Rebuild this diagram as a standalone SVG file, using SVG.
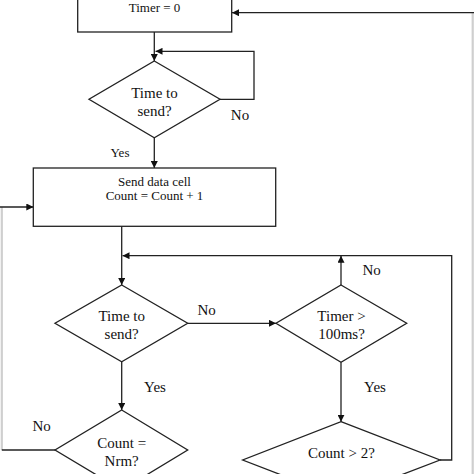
<svg xmlns="http://www.w3.org/2000/svg" width="474" height="474" viewBox="0 0 474 474">
<style>
.s{fill:none;stroke:#222;stroke-width:1.3}
.n{fill:#fff;stroke:#222;stroke-width:1.3}
.g{fill:none;stroke:#cfcfcf;stroke-width:2.2}
text{font-family:"Liberation Serif","Times New Roman",serif;fill:#111;text-anchor:middle}
.t15{font-size:15px}
.t13{font-size:13px}
</style>
<defs>
<marker id="a" viewBox="0 0 10 10" refX="10" refY="5" markerWidth="7" markerHeight="7" markerUnits="userSpaceOnUse" orient="auto">
<path d="M0,0 L10,5 L0,10 z" fill="#111"/>
</marker>
</defs>
<rect width="474" height="474" fill="#fff"/>
<g id="connectors">
<line class="g" x1="472.7" y1="12.7" x2="472.7" y2="474"/>
<line class="g" x1="1.8" y1="207" x2="1.8" y2="450"/>
<path class="s" d="M474,12.7 H232" marker-end="url(#a)"/>
<path class="s" d="M154.3,32 V61" marker-end="url(#a)"/>
<path class="s" d="M220,99.3 H254 V51.3 H155.5" marker-end="url(#a)"/>
<path class="s" d="M154.3,137.7 V168" marker-end="url(#a)"/>
<path class="s" d="M0,207 H33.3" marker-end="url(#a)"/>
<path class="s" d="M121.7,226.3 V285" marker-end="url(#a)"/>
<path class="s" d="M440,460 H451.7 V255.7 H122.5" marker-end="url(#a)"/>
<path class="s" d="M341,285 V255.7" marker-end="url(#a)"/>
<path class="s" d="M187.7,323.3 H276" marker-end="url(#a)"/>
<path class="s" d="M121.7,361.7 V410" marker-end="url(#a)"/>
<path class="s" d="M341,362.3 V421.7" marker-end="url(#a)"/>
<path class="s" d="M55,450 H1.8"/>
</g>
<g id="start">
<rect class="n" x="77.7" y="-30" width="154" height="62"/>
<text class="t13" x="154.5" y="12">Timer = 0</text>
</g>
<g id="d1">
<polygon class="n" points="154.3,61 220,99.3 154.3,137.7 89,99.3"/>
<text class="t15" x="154.5" y="98">Time to</text>
<text class="t15" x="154.5" y="116">send?</text>
</g>
<g id="send">
<rect class="n" x="33.3" y="168" width="242.4" height="58.3"/>
<text class="t13" x="154.5" y="185.5">Send data cell</text>
<text class="t13" x="154.5" y="200">Count = Count + 1</text>
</g>
<g id="d2">
<polygon class="n" points="121.7,285 187.7,323.3 121.7,361.7 55,323.3"/>
<text class="t15" x="121.7" y="320.5">Time to</text>
<text class="t15" x="121.7" y="338.5">send?</text>
</g>
<g id="d3">
<polygon class="n" points="341,285 406.7,323.3 341,362.3 276,323.3"/>
<text class="t15" x="341.5" y="320.5">Timer &gt;</text>
<text class="t15" x="341.5" y="339">100ms?</text>
</g>
<g id="d4">
<polygon class="n" points="121.7,410 187.7,450 121.7,490 55,450"/>
<text class="t15" x="121.7" y="447.5">Count =</text>
<text class="t15" x="121.7" y="466">Nrm?</text>
</g>
<g id="d5">
<polygon class="n" points="341,421.7 440,460 341,498 242.7,460"/>
<text class="t15" x="341.5" y="457.5">Count &gt; 2?</text>
</g>
<g id="labels">
<text class="t15" x="240" y="119.5">No</text>
<text class="t13" x="120" y="156.5">Yes</text>
<text class="t15" x="206.7" y="314.5">No</text>
<text class="t15" x="371.7" y="275">No</text>
<text class="t15" x="155" y="391.5">Yes</text>
<text class="t15" x="375" y="391.5">Yes</text>
<text class="t15" x="41.7" y="430.5">No</text>
</g>
</svg>
